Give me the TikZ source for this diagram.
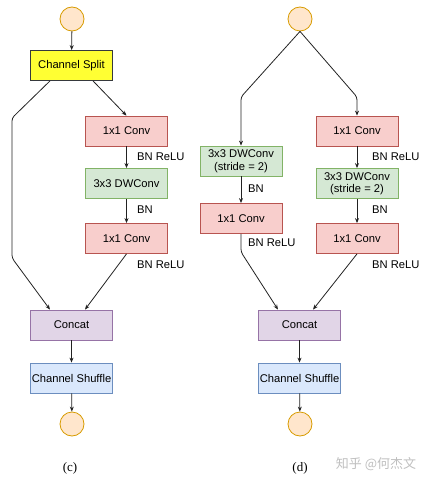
\documentclass[tikz,border=0pt]{standalone}
\usepackage{fontspec}
\setmainfont{Liberation Sans}
\newfontfamily\serifcap{Liberation Serif}
\newfontfamily\cjk{Noto Sans CJK SC}
\usetikzlibrary{arrows.meta}
\definecolor{circF}{HTML}{FFE6CC}
\definecolor{circD}{HTML}{D79B00}
\definecolor{yelF}{HTML}{FFFF33}
\definecolor{yelD}{HTML}{36393D}
\definecolor{pinkF}{HTML}{F8CECC}
\definecolor{pinkD}{HTML}{B85450}
\definecolor{greenF}{HTML}{D5E8D4}
\definecolor{greenD}{HTML}{82B366}
\definecolor{purF}{HTML}{E1D5E7}
\definecolor{purD}{HTML}{9673A6}
\definecolor{bluF}{HTML}{DAE8FC}
\definecolor{bluD}{HTML}{6C8EBF}
\definecolor{lineC}{HTML}{222222}
\begin{document}
\begin{tikzpicture}[x=1pt,y=-1pt,
  box/.style={draw, line width=0.8pt, minimum width=82pt, minimum height=30pt, inner sep=0pt,
    font=\fontsize{11.2}{12.5}\selectfont, align=center},
  yelbox/.style={box, fill=yelF, draw=yelD},
  pinkbox/.style={box, fill=pinkF, draw=pinkD},
  greenbox/.style={box, fill=greenF, draw=greenD},
  purbox/.style={box, fill=purF, draw=purD},
  blubox/.style={box, fill=bluF, draw=bluD},
  circ/.style={circle, draw=circD, fill=circF, minimum size=24pt, inner sep=0pt, line width=0.8pt},
  arr/.style={-{Stealth[length=5pt,width=4pt]}, line width=0.8pt, draw=lineC, rounded corners=3pt},
  lbl/.style={anchor=west, inner sep=0pt, font=\fontsize{11.2}{12.5}\selectfont},
  capt/.style={font=\serifcap\fontsize{13}{15}\selectfont}
]
\useasboundingbox (0,0) rectangle (429,484);

% ---------- (c) ----------
\node[circ] (c0) at (72,19) {};
\node[yelbox] (split) at (71.5,65.5) {Channel Split};
\node[pinkbox] (c1) at (126.5,131) {1x1 Conv};
\node[greenbox] (c2) at (126.5,183.5) {3x3 DWConv};
\node[pinkbox] (c3) at (126.5,238.5) {1x1 Conv};
\node[purbox] (ccat) at (71.5,325) {Concat};
\node[blubox] (cshuf) at (71.5,378) {Channel Shuffle};
\node[circ] (cend) at (72,424) {};
\coordinate (cl1) at (12,118);
\coordinate (cl2) at (12,258);

\draw[arr] (c0) -- (split);
\draw[arr] ([xshift=21.5pt]split.south) -- (c1.north);
\draw[arr] ([xshift=-21.5pt]split.south) -- (cl1) -- (cl2) -- ([xshift=-21.5pt]ccat.north);
\draw[arr] (c1) -- (c2);
\draw[arr] (c2) -- (c3);
\draw[arr] (c3.south) -- ([xshift=13.5pt]ccat.north);
\draw[arr] (ccat) -- (cshuf);
\draw[arr] (cshuf) -- (cend);

\node[lbl] (cla) at (137,157) {BN ReLU};
\node[lbl] (clb) at (137,210) {BN};
\node[lbl] (clc) at (137,265) {BN ReLU};

% ---------- (d) ----------
\node[circ] (d0) at (300,19) {};
\node[greenbox] (dl2) at (241,161) {3x3 DWConv\\(stride = 2)};
\node[pinkbox] (dl3) at (241,218.5) {1x1 Conv};
\node[pinkbox] (dr2) at (357,131) {1x1 Conv};
\node[greenbox] (dr3) at (357,183.5) {3x3 DWConv\\(stride = 2)};
\node[pinkbox] (dr4) at (357,238.5) {1x1 Conv};
\node[purbox] (dcat) at (299.5,325) {Concat};
\node[blubox] (dshuf) at (299.5,378) {Channel Shuffle};
\node[circ] (dend) at (300,424) {};
\coordinate (dl1) at (241,97);
\coordinate (dr1) at (357,97);
\coordinate (dl4) at (241,252);

\draw[arr] (d0.south) -- (dl1) -- (dl2.north);
\draw[arr] (d0.south) -- (dr1) -- (dr2.north);
\draw[arr] (dl2) -- (dl3);
\draw[arr] (dl3.south) -- (dl4) -- ([xshift=-21.5pt]dcat.north);
\draw[arr] (dr2) -- (dr3);
\draw[arr] (dr3) -- (dr4);
\draw[arr] (dr4.south) -- ([xshift=13.5pt]dcat.north);
\draw[arr] (dcat) -- (dshuf);
\draw[arr] (dshuf) -- (dend);

\node[lbl] (dla) at (248,189) {BN};
\node[lbl] (dlb) at (248,243) {BN ReLU};
\node[lbl] (dra) at (372,157) {BN ReLU};
\node[lbl] (drb) at (372,210) {BN};
\node[lbl] (drc) at (372,265) {BN ReLU};

% ---------- captions ----------
\node[capt] (capc) at (70,468) {(c)};
\node[capt] (capd) at (300,468) {(d)};
\node[text=black!25, font=\cjk\fontsize{13}{15}\selectfont] (wm) at (376,464) {知乎 @何杰文};
\end{tikzpicture}
\end{document}
